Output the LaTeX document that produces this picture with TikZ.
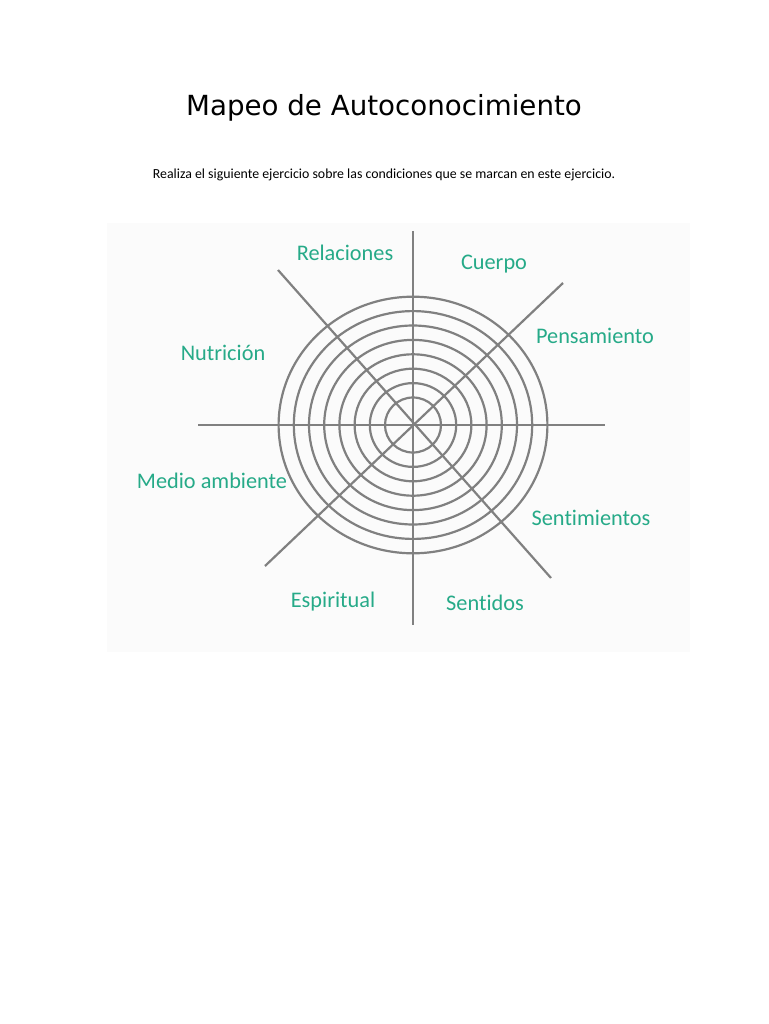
\documentclass[tikz,border=0pt]{standalone}
\usepackage{fontspec}
\setmainfont[Ligatures=NoCommon]{Carlito}
\newfontfamily\titlefont{DejaVu Sans}
\usepackage{tikz}
\usetikzlibrary{positioning}
\definecolor{mapgreen}{RGB}{38,170,136}
\definecolor{spokegray}{RGB}{128,128,128}
\definecolor{panelbg}{RGB}{251,251,251}
\tikzset{
  ring/.style   = {draw=spokegray, line width=2.2pt},
  spoke/.style  = {draw=spokegray, line width=2.2pt},
  area/.style   = {font=\fontsize{22.3}{26}\selectfont, text=mapgreen, inner sep=0pt},
  heading/.style = {font=\titlefont\fontsize{27.7}{32}\selectfont, inner sep=0pt},
  note/.style   = {font=\fontsize{13.85}{16}\selectfont, inner sep=0pt}
}

\begin{document}
\begin{tikzpicture}[x=1pt, y=-1pt]
\useasboundingbox (0,0) rectangle (768,1024);
\fill[white] (0,0) rectangle (768,1024);
% ---- texts above ----
\node[heading] (title) at (384,108) {Mapeo de Autoconocimiento};
\node[note] (intro) at (384,175) {Realiza el siguiente ejercicio sobre las condiciones que se marcan en este ejercicio.};

% ---- panel ----
\fill[panelbg] (107,223) rectangle (690,652);

% ---- rings ----
\coordinate (c) at (413,425);
\foreach \r in {0,...,7}
  \draw[ring] (c) ellipse ({28+15.2*\r} and {27.5+14.4*\r});

% ---- spokes ----
\coordinate (n) at (413,231);
\coordinate (s) at (413,625);
\coordinate (w) at (198,425);
\coordinate (e) at (605,425);
\coordinate (nw) at (278,270);
\coordinate (ne) at (563,283);
\coordinate (sw) at (265,566);
\coordinate (se) at (551,578);
\draw[spoke] (n) -- (s);
\draw[spoke] (w) -- (e);
\draw[spoke] (nw) -- (se);
\draw[spoke] (sw) -- (ne);

% ---- areas ----
\node[area] (rel)  at (345,253) {Relaciones};
\node[area] (cue)  at (494,264) {Cuerpo};
\node[area] (pen)  at (595,336) {Pensamiento};
\node[area] (nut)  at (223,353) {Nutrición};
\node[area] (med)  at (212,481) {Medio ambiente};
\node[area] (sent) at (591,518) {Sentimientos};
\node[area] (esp)  at (333,602) {Espiritual};
\node[area] (sen)  at (485,603) {Sentidos};
\end{tikzpicture}
\end{document}
